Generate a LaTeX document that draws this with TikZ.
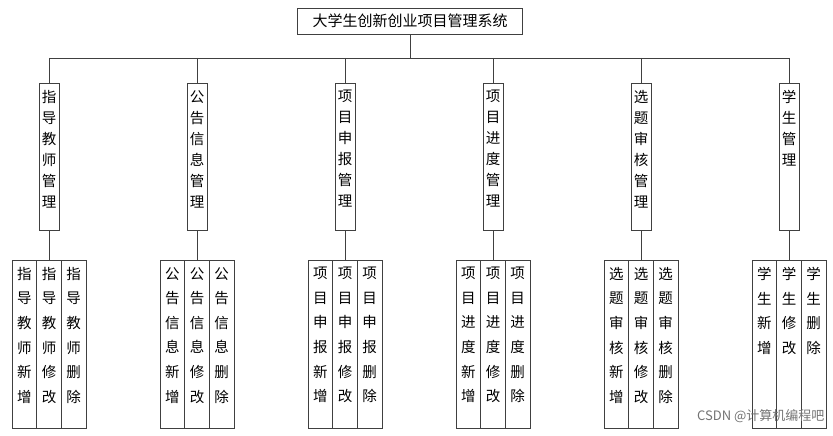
\documentclass[tikz,border=0pt]{standalone}
\usepackage{fontspec}
\setmainfont{Noto Sans CJK SC}
\begin{document}
\begin{tikzpicture}[x=1pt,y=-1pt,
  line/.style={draw=black!75,line width=0.7pt},
  topbox/.style={line,minimum width=225pt,minimum height=26pt,inner sep=0pt,font=\fontsize{15}{18}\selectfont},
  midbox/.style={line,minimum width=20pt,minimum height=147pt,inner sep=0pt,anchor=north},
  leafbox/.style={line,minimum width=24.7pt,minimum height=168pt,inner sep=0pt,anchor=north},
  midtxt/.style={anchor=north,align=center,inner sep=0pt,font=\fontsize{14.5}{21}\selectfont},
  leaftxt/.style={anchor=north,align=center,inner sep=0pt,font=\fontsize{14.5}{24.6}\selectfont}]
\useasboundingbox (0,0) rectangle (833,436);
\node[topbox] (root) at (410,21) {大学生创新创业项目管理系统};
\coordinate (hl) at (49,58);
\coordinate (hr) at (789,58);
\draw[line] (root.south) -- (410,58);
\draw[line] (hl) -- (hr);
\foreach \i/\cx/\m/\a/\b/\c in {
 1/49/指\\导\\教\\师\\管\\理/指\\导\\教\\师\\新\\增/指\\导\\教\\师\\修\\改/指\\导\\教\\师\\删\\除,
 2/197/公\\告\\信\\息\\管\\理/公\\告\\信\\息\\新\\增/公\\告\\信\\息\\修\\改/公\\告\\信\\息\\删\\除,
 3/345/项\\目\\申\\报\\管\\理/项\\目\\申\\报\\新\\增/项\\目\\申\\报\\修\\改/项\\目\\申\\报\\删\\除,
 4/493/项\\目\\进\\度\\管\\理/项\\目\\进\\度\\新\\增/项\\目\\进\\度\\修\\改/项\\目\\进\\度\\删\\除,
 5/641/选\\题\\审\\核\\管\\理/选\\题\\审\\核\\新\\增/选\\题\\审\\核\\修\\改/选\\题\\审\\核\\删\\除,
 6/789/学\\生\\管\\理/学\\生\\新\\增/学\\生\\修\\改/学\\生\\删\\除}{
  \node[midbox] (m\i) at (\cx,83) {};
  \node[midtxt] at (\cx,90) {\m};
  \node[leafbox] (la\i) at (\cx-24.7,260) {};
  \node[leafbox] (lb\i) at (\cx,260) {};
  \node[leafbox] (lc\i) at (\cx+24.7,260) {};
  \node[leaftxt] at (\cx-24.7,267) {\a};
  \node[leaftxt] at (\cx,267) {\b};
  \node[leaftxt] at (\cx+24.7,267) {\c};
  \draw[line] (\cx,58) -- (m\i.north);
  \draw[line] (m\i.south) -- (lb\i.north);
}
\node[font=\fontsize{13}{15}\selectfont,text=black!55,anchor=east] (wm) at (828,416) {CSDN @计算机编程吧};
\end{tikzpicture}
\end{document}
